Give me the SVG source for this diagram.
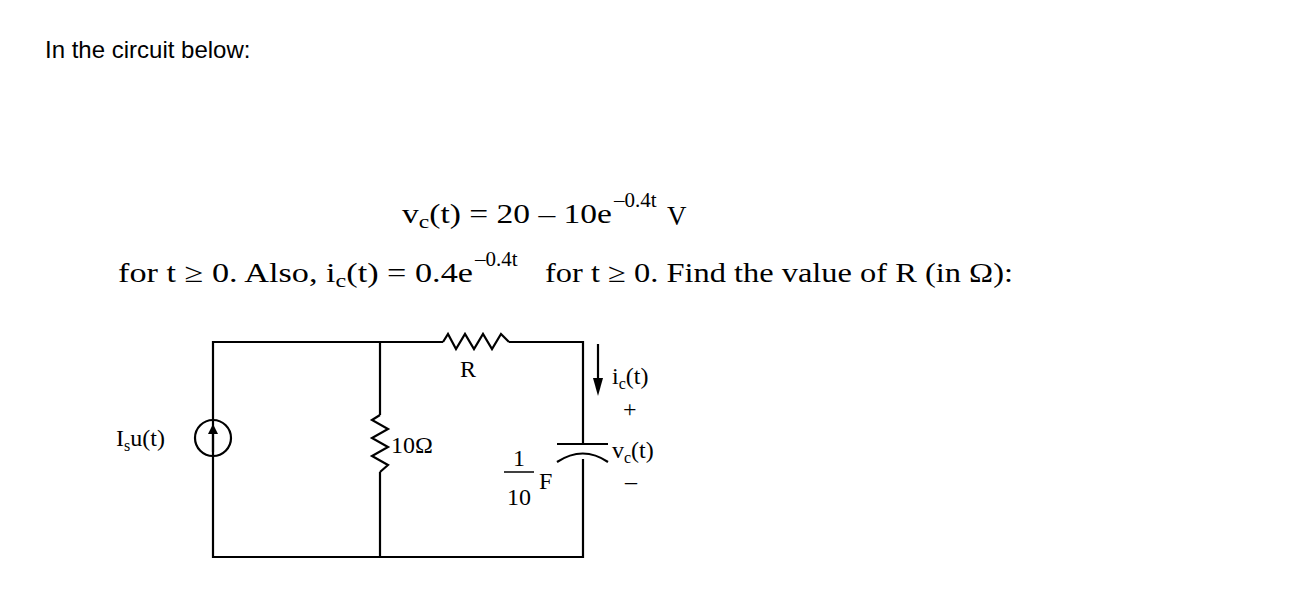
<svg xmlns="http://www.w3.org/2000/svg" width="1290" height="603" viewBox="0 0 1290 603">
<style>
.w{fill:none;stroke:#000;stroke-width:2.2}
.t{font-family:"Liberation Serif",serif;font-size:24px;fill:#000}
.m{font-family:"Liberation Serif",serif;font-size:27px;fill:#000}
.s{font-family:"Liberation Serif",serif;font-size:21px;fill:#000}
</style>
<rect width="1290" height="603" fill="#fff"/>
<text x="45" y="58" style="font-family:'Liberation Sans',sans-serif;font-size:24px">In the circuit below:</text>
<g id="eq1">
<text class="m" x="402" y="223" textLength="210" lengthAdjust="spacingAndGlyphs">v<tspan font-size="19" dy="5">c</tspan><tspan dy="-5">(t) = 20 – 10e</tspan></text>
<text class="s" x="614" y="207">–0.4t</text>
<text class="m" x="667" y="225">V</text>
</g>
<g id="eq2">
<text class="m" x="118" y="282" textLength="355" lengthAdjust="spacingAndGlyphs">for t ≥ 0.  Also, i<tspan font-size="19" dy="5">c</tspan><tspan dy="-5">(t) = 0.4e</tspan></text>
<text class="s" x="475" y="266">–0.4t</text>
<text class="m" x="545" y="282" textLength="468" lengthAdjust="spacingAndGlyphs">for t ≥ 0.  Find the value of R (in Ω):</text>
</g>
<g id="wires">
<polyline class="w" points="443,342 213,342 213,557 583,557 583,342 509,342"/>
<line class="w" x1="380" y1="342" x2="380" y2="415"/>
<line class="w" x1="380" y1="472" x2="380" y2="557"/>
</g>
<g id="R"><polyline class="w" points="443,342 448,334 456,349 465,334 474,349 483,334 492,349 501,334 509,342"/>
<text class="t" x="460" y="377">R</text></g>
<g id="R10"><polyline class="w" points="380,415 372,420 388,429 372,438 388,447 372,456 388,465 380,472"/>
<text class="t" x="391" y="453">10Ω</text></g>
<g id="src"><circle class="w" cx="213" cy="438" r="18" fill="#fff"/>
<line class="w" x1="213" y1="452" x2="213" y2="430"/><polygon points="213,424 208,434 218,434"/>
<text class="t" x="116" y="446">I<tspan font-size="16" dy="5">s</tspan><tspan dy="-5">u(t)</tspan></text></g>
<g id="C"><rect x="570" y="443" width="26" height="16" fill="#fff"/>
<line class="w" x1="557" y1="444" x2="608" y2="444"/>
<path class="w" d="M557,462 Q583,445 608,462"/>
<text class="t" x="513" y="466">1</text><line x1="504" y1="472" x2="534" y2="472" stroke="#000" stroke-width="1.5"/>
<text class="t" x="507" y="505">10</text><text class="t" x="539" y="489">F</text>
<text class="t" x="612" y="458">v<tspan font-size="16" dy="5">c</tspan><tspan dy="-5">(t)</tspan></text>
<text class="t" x="623" y="417">+</text><text class="t" x="625" y="489">–</text></g>
<g id="ic"><line class="w" x1="598" y1="344" x2="598" y2="380"/><polygon points="598,396 593,378 603,378"/>
<text class="t" x="612" y="384">i<tspan font-size="16" dy="5">c</tspan><tspan dy="-5">(t)</tspan></text></g>
</svg>
